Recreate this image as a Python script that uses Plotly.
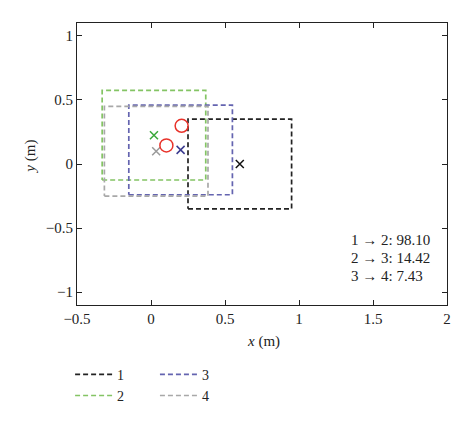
import plotly.graph_objects as go

# Data
box_labels = ["1", "2", "3", "4"]
box_cx = [0.60, 0.02, 0.20, 0.035]
box_cy = [0.00, 0.225, 0.11, 0.10]
box_half = [0.35, 0.35, 0.35, 0.35]
box_colors = ["#222222", "#84c464", "#6464b0", "#a8a8a8"]
cross_colors = ["#111111", "#3aa83a", "#3b3b8f", "#999999"]
circle_x = [0.207, 0.104]
circle_y = [0.298, 0.145]
trans_labels = ["1 \u2192 2: 98.10", "2 \u2192 3: 14.42", "3 \u2192 4: 7.43"]
x_ticks = [-0.5, 0, 0.5, 1, 1.5, 2]
x_ticktext = ["\u22120.5", "0", "0.5", "1", "1.5", "2"]
y_ticks = [-1, -0.5, 0, 0.5, 1]
y_ticktext = ["\u22121", "\u22120.5", "0", "0.5", "1"]

FONT = "Liberation Serif"
TXT = "#222222"

fig = go.Figure()

for i, lab in enumerate(box_labels):
    cx, cy, h = box_cx[i], box_cy[i], box_half[i]
    xs = [cx - h, cx + h, cx + h, cx - h, cx - h]
    ys = [cy - h, cy - h, cy + h, cy + h, cy - h]
    fig.add_trace(go.Scatter(
        x=xs, y=ys, mode="lines", name=lab,
        line=dict(color=box_colors[i], width=1.7, dash="5px,3px"),
        legend="legend" if i in (0, 1) else "legend2",
        hoverinfo="skip",
    ))

for i in range(len(box_labels)):
    fig.add_trace(go.Scatter(
        x=[box_cx[i]], y=[box_cy[i]], mode="markers", showlegend=False,
        marker=dict(symbol="x-thin", size=8,
                    line=dict(color=cross_colors[i], width=1.5)),
    ))

fig.add_trace(go.Scatter(
    x=circle_x, y=circle_y, mode="markers", showlegend=False,
    marker=dict(symbol="circle-open", size=13,
                line=dict(color="#e8322a", width=1.5), color="#e8322a"),
))

for k, t in enumerate(trans_labels):
    fig.add_annotation(x=1.34, y=-0.59 - 0.14 * k, text=t, showarrow=False,
                       xanchor="left", yanchor="middle",
                       font=dict(family=FONT, size=15, color=TXT))

# axis titles
fig.add_annotation(xref="paper", yref="paper", x=0.503, y=-0.131,
                   text="<i>x</i> (m)", showarrow=False,
                   xanchor="center", yanchor="middle",
                   font=dict(family=FONT, size=15, color=TXT))
fig.add_annotation(xref="paper", yref="paper", x=-0.125, y=0.525,
                   text="<i>y</i> (m)", showarrow=False, textangle=-90,
                   xanchor="center", yanchor="middle",
                   font=dict(family=FONT, size=15, color=TXT))

axis_common = dict(
    showgrid=False, zeroline=False, showline=True, linecolor=TXT,
    linewidth=1, mirror="ticks", ticks="inside", ticklen=5, tickcolor=TXT,
    tickfont=dict(family=FONT, size=15, color=TXT), automargin=False,
)

fig.update_layout(
    width=474, height=421,
    margin=dict(l=69, r=35, t=15, b=124, autoexpand=False),
    plot_bgcolor="white", paper_bgcolor="white",
    xaxis=dict(range=[-0.5, 2], tickvals=x_ticks, ticktext=x_ticktext, **axis_common),
    yaxis=dict(range=[-1.1, 1.1], tickvals=y_ticks, ticktext=y_ticktext, **axis_common),
    legend=dict(xref="container", yref="container", x=0.131, y=0.167,
                xanchor="left", yanchor="top", bgcolor="rgba(0,0,0,0)", itemwidth=37,
                font=dict(family=FONT, size=14, color=TXT), tracegroupgap=0),
    legend2=dict(xref="container", yref="container", x=0.310, y=0.167,
                 xanchor="left", yanchor="top", bgcolor="rgba(0,0,0,0)", itemwidth=37,
                 font=dict(family=FONT, size=14, color=TXT), tracegroupgap=0),
    showlegend=True,
)

fig.write_html("out.html")
